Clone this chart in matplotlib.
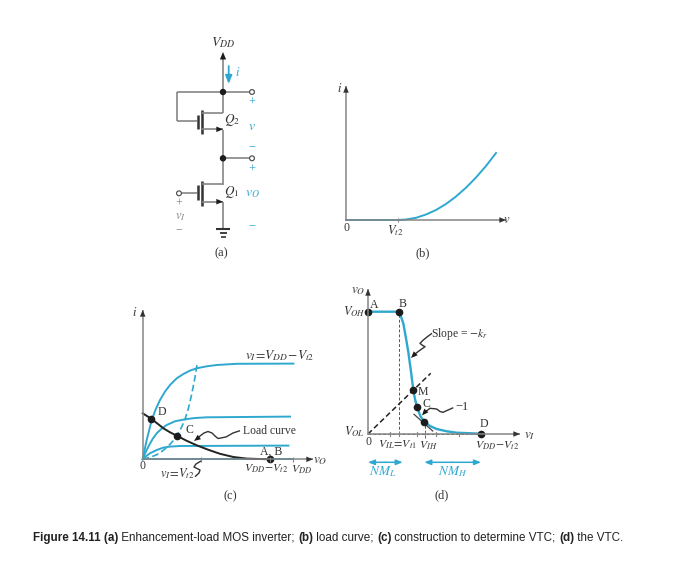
import matplotlib
matplotlib.use("Agg")
import matplotlib.pyplot as plt
from matplotlib.patches import Circle

W, H = 700, 565
BLUE = "#2fa8d0"
GRAY = "#858585"
INK = "#333333"
DARK = "#1c1c1c"
plt.rcParams["font.family"] = "Liberation Serif"
plt.rcParams["mathtext.fontset"] = "stix"
plt.rcParams["lines.solid_joinstyle"] = "round"
plt.rcParams["lines.dash_joinstyle"] = "round"

# ---- panel (b): load curve
b_v = [0, 5.2, 6, 7, 8, 9, 10, 11, 12, 13, 14, 15]
b_i = [0, 0, .05, .22, .55, 1.0, 1.6, 2.35, 3.23, 4.25, 5.4, 6.7]

# ---- panel (c): construction
c_top_x = [0, .2, .4, .67, .9, 1.3, 1.73, 2.23, 2.73, 3.4, 4.07, 4.73, 5.4, 6.4, 7.4, 9.4, 15.07]
c_top_y = [0, 1.0, 1.93, 3.0, 3.93, 5.0, 5.93, 6.77, 7.43, 8.1, 8.53, 8.87, 9.1, 9.3, 9.43, 9.55, 9.57]
c_mid_x = [0, .25, .57, .97, 1.4, 1.9, 2.4, 3.23, 4.23, 5.23, 6.4, 14.73]
c_mid_y = [0, .62, 1.27, 2.0, 2.6, 3.07, 3.43, 3.8, 4.0, 4.13, 4.2, 4.27]
c_low_x = [0, .35, .73, 1.4, 2.07, 2.73, 3.73, 14.57]
c_low_y = [0, .32, .6, .93, 1.17, 1.27, 1.33, 1.37]
c_off_x = [0, 15.07]
c_off_y = [0, 0]
c_sat_x = [0, .73, 1.4, 2.07, 2.73, 3.23, 3.57, 3.9, 4.23, 4.57, 4.9, 5.23, 5.47]
c_sat_y = [0, .2, .45, .9, 1.5, 2.05, 2.6, 3.25, 4.0, 5.1, 6.5, 8.2, 9.7]
c_load_x = [0, .83, 1.4, 2.07, 2.73, 3.47, 4.4, 5.4, 6.57, 7.73, 9.07, 10.4, 12.73]
c_load_y = [4.6, 4.07, 3.63, 3.1, 2.7, 2.33, 1.85, 1.4, .95, .55, .23, .07, 0]
c_pts_x = [.83, 3.47, 12.73]
c_pts_y = [4.07, 2.33, 0]

# ---- panel (d): the VTC
d_x = [0, 3.13, 3.53, 3.8, 4.03, 4.3, 4.53, 4.7, 4.93, 5.27, 5.63, 6.2, 6.87, 7.87, 8.87, 11.3]
d_y = [12.23, 12.23, 11.07, 9.57, 8.2, 6.23, 4.4, 3.5, 2.57, 1.73, 1.23, .8, .5, .27, .13, .03]
d_pts_x = [0, 3.13, 4.53, 4.93, 5.63, 11.3]
d_pts_y = [12.23, 12.23, 4.4, 2.67, 1.23, .03]
d_diag_x = [0, 6.27]
d_diag_y = [0, 6.07]
d_tan_x = [4.6, 6.47]
d_tan_y = [1.97, .3]
d_ticks = [2.2, 3.13, 4.87, 5.67, 6.8, 9.1, 11.3]

fig = plt.figure(figsize=(W / 100, H / 100), dpi=100, facecolor="white")
ov = fig.add_axes([0, 0, 1, 1], zorder=5)
ov.set_xlim(0, W); ov.set_ylim(H, 0); ov.axis("off"); ov.patch.set_alpha(0)


def panel(x0, y0, w, h, xmax, ymax):
    ax = fig.add_axes([x0 / W, 1 - y0 / H, w / W, h / H], zorder=3)
    ax.set_xlim(0, xmax); ax.set_ylim(0, ymax); ax.axis("off"); ax.patch.set_alpha(0)
    return ax


def arrow(p, q, color=BLUE, lw=1.1, scale=8):
    ov.annotate("", xy=q, xytext=p, xycoords="data", textcoords="data",
                arrowprops=dict(arrowstyle="-|>,head_width=0.22,head_length=0.55", color=color,
                                lw=lw, shrinkA=0, shrinkB=0, mutation_scale=scale))


def head(p, q, color=DARK, scale=9):
    ov.annotate("", xy=q, xytext=p, arrowprops=dict(arrowstyle="-|>,head_width=0.25,head_length=0.6",
                color=color, lw=0, shrinkA=0, shrinkB=0, mutation_scale=scale))


def seg(xs, ys, color=GRAY, lw=1.2, **kw):
    ov.plot(xs, ys, color=color, lw=lw, solid_capstyle="butt", **kw)


def axis_arrow(p, q):
    seg([p[0], q[0]], [p[1], q[1]], lw=1.1)
    dx = 0 if p[0] == q[0] else (1 if q[0] > p[0] else -1)
    dy = 0 if p[1] == q[1] else (1 if q[1] > p[1] else -1)
    head((q[0] - 8 * dx, q[1] - 8 * dy), q, color="#333333", scale=8)


def label(x, y, s, size=9, color=INK, **kw):
    ov.text(x, y, s, fontsize=size, color=color, ha="center", va="center", **kw)


def dot(x, y, r=2.5):
    ov.add_patch(Circle((x, y), r, color=DARK, zorder=6))


def term(x, y, r=2.4):
    ov.add_patch(Circle((x, y), r, fc="white", ec="#555555", lw=0.9, zorder=6))


# ---------- (a) circuit
X = 223
seg([X, X], [92, 58])
head((X, 62), (X, 52))
seg([X, X], [92, 113]); seg([X, X], [129.5, 184.5]); seg([X, X], [202, 229])
seg([X, 251], [92, 92]); seg([X, 251], [158.3, 158.3])
seg([176.7, X], [92, 92]); seg([176.7, 176.7], [92, 120.7]); seg([176.7, 197], [120.7, 120.7])
for top, ytop, ybot, ydr, ysr in [(0, 115, 129.3, 112.7, 129.3), (1, 185, 200, 184.3, 201.7)]:
    seg([197.7, 197.7], [ytop, ybot], color="#333333", lw=1.8)
    seg([202.3, 202.3], [ydr - 3, ysr + 4.5], color="#333333", lw=1.8)
    seg([202.3, X], [ydr, ydr]); seg([202.3, X], [ysr, ysr])
    head((X - 8, ysr), (X, ysr), scale=8)
seg([181, 197], [193.3, 193.3])
seg([216, 230], [229.3, 229.3], color="#333333", lw=1.5)
seg([219.5, 227], [233.3, 233.3], color="#333333", lw=1.3)
seg([221, 225.5], [237, 237], color="#333333", lw=1.2)
dot(X, 92); dot(X, 158.3)
term(252, 92); term(252, 158.3); term(179, 193.3)
arrow((228.7, 66), (228.7, 84), lw=1.3, scale=9)
label(223, 42.7, r"$V_{DD}$", 10)
label(238, 73, r"$i$", 9, BLUE)
label(232, 120.5, r"$Q_2$", 9.5)
label(232, 192, r"$Q_1$", 9.5)
label(252, 103, "+", 9, BLUE); label(252, 127, r"$v$", 10, BLUE)
label(252, 148, "\u2212", 9, BLUE); label(252, 170, "+", 9, BLUE)
label(252, 194, r"$v_O$", 10, BLUE); label(252, 226.7, "\u2212", 9, BLUE)
label(179, 203.5, "+", 8.5, GRAY); label(180, 217, r"$v_I$", 9, GRAY); label(179, 229, "\u2212", 8.5, GRAY)
label(221.7, 253, "(a)", 9)

# ---------- (b)
axb = panel(346, 220, 165, 140, 16.5, 14)
axb.plot(b_v, b_i, color=BLUE, lw=1.4, clip_on=False, zorder=4)
axis_arrow((346, 221), (346, 86)); axis_arrow((346, 220), (506, 220))
seg([398, 398], [218, 222], lw=0.8)
label(340, 88, r"$i$", 9); label(346, 228, "0", 8.5)
label(395, 231, r"$V_{t2}$", 9); label(507, 220, r"$v$", 9)
label(423, 253, "(b)", 9)

# ---------- (c)
axc = panel(142.7, 459.3, 170, 150, 17, 15)
for xs, ys in [(c_top_x, c_top_y), (c_mid_x, c_mid_y), (c_low_x, c_low_y), (c_off_x, c_off_y)]:
    axc.plot(xs, ys, color=BLUE, lw=1.4, clip_on=False)
axc.plot(c_sat_x, c_sat_y, color=BLUE, lw=1.2, ls=(0, (4, 2)), clip_on=False)
axc.plot(c_load_x, c_load_y, color="#222222", lw=1.4, clip_on=False)
axc.plot(c_pts_x, c_pts_y, "o", color=DARK, ms=4.5, clip_on=False, zorder=5)
axis_arrow((142.7, 460), (142.7, 310)); axis_arrow((142.7, 459.3), (313, 459.3))
for x in [201, 270, 293]:
    seg([x, x], [457, 462], lw=0.8)
sq1_x = [240, 233, 226, 218, 215, 212, 208, 204, 200, 197]
sq1_y = [430.7, 433, 437, 438.5, 436, 433, 431.5, 433, 436, 439]
seg(sq1_x, sq1_y, color="#333333", lw=1)
head((198, 438), (194, 441), scale=8)
sq2_x = [195, 199, 200, 197, 194, 196, 201]
sq2_y = [476.7, 473, 470, 468.5, 467, 464, 461]
seg(sq2_x, sq2_y, color="#333333", lw=1)
label(135, 312, r"$i$", 9)
label(280, 356, r"$v_I\!=\!V_{DD}\!-\!V_{t2}$", 9.7)
label(161.7, 412, "D", 8.5); label(189, 430, "C", 8.5)
label(269, 431, "Load curve", 8.4); label(270.7, 452, "A, B", 8.5)
label(142.7, 466, "0", 8.5); label(177, 473.5, r"$v_I\!=\!V_{t2}$", 9)
label(266, 469, r"$V_{DD}\!-\!V_{t2}$", 8.6); label(301.7, 470, r"$V_{DD}$", 8.6)
label(320, 460.7, r"$v_O$", 9.5)
label(230, 496, "(c)", 9)

# ---------- (d)
axd = panel(368, 434, 160, 150, 16, 15)
axd.plot([3.13, 3.13], [0, 12.23], color="#555555", lw=0.7, ls=(0, (3, 2)), clip_on=False)
axd.plot([5.67, 5.67], [-0.4, 1.23], color="#555555", lw=0.7, ls=(0, (3, 2)), clip_on=False)
axd.plot([0, 11.3], [0.03, 0.03], color="#555555", lw=0.7, ls=(0, (3, 2)), clip_on=False)
axd.plot(d_x, d_y, color=BLUE, lw=1.7, clip_on=False)
axd.plot(d_diag_x, d_diag_y, color="#222222", lw=1.1, ls=(0, (3.5, 2)), clip_on=False)
axd.plot(d_tan_x, d_tan_y, color="#444444", lw=0.9, clip_on=False)
axd.plot(d_pts_x, d_pts_y, "o", color=DARK, ms=4.5, clip_on=False, zorder=5)
axis_arrow((368, 434.5), (368, 289)); axis_arrow((368, 434), (520, 434))
for t in d_ticks:
    axd.plot([t, t], [-.2, .2], color=GRAY, lw=0.8, clip_on=False)
sq3_x = [432, 427, 423.3, 420, 422, 425, 421, 418, 415]
sq3_y = [333.3, 337, 340, 343.3, 345, 346.7, 349.5, 351.7, 354]
seg(sq3_x, sq3_y, color="#333333", lw=1)
head((416, 353), (411, 358), scale=8)
sq4_x = [453.3, 447, 443, 440, 436.7, 430, 425]
sq4_y = [407.7, 410.5, 412.3, 411.5, 409, 408.3, 412]
seg(sq4_x, sq4_y, color="#333333", lw=1)
head((425, 412), (422, 415.5), scale=8)
label(358, 291, r"$v_O$", 9.5); label(354, 311.7, r"$V_{OH}$", 9)
label(374, 305, "A", 8.5); label(403, 304, "B", 8.5)
label(460, 334, r"Slope = $-k_r$", 8.4)
label(423, 392, "M", 8.5); label(426, 404, "C", 8.5); label(461.7, 407, "\u22121", 9)
label(484, 424, "D", 8.5); label(354, 432, r"$V_{OL}$", 9)
label(368, 442, "0", 8.5); label(397, 445, r"$V_{IL}\!=\!V_{t1}$", 8.6)
label(428, 446, r"$V_{IH}$", 8.6); label(497, 446, r"$V_{DD}\!-\!V_{t2}$", 8.6)
label(530, 436, r"$v_I$", 9.5)
for p, q in [((385, 462.3), (368, 462.3)), ((385, 462.3), (402.7, 462.3)),
             ((452, 462.3), (424.3, 462.3)), ((452, 462.3), (481, 462.3))]:
    arrow(p, q, lw=1.1, scale=7)
label(383, 472, r"$NM_L$", 9.5, BLUE); label(453, 472, r"$NM_H$", 9.5, BLUE)
label(441.7, 495, "(d)", 9)

# ---------- caption
parts = [("Figure 14.11 (a)", "bold"), (" Enhancement-load MOS inverter; ", "normal"), ("(b)", "bold"),
         (" load curve; ", "normal"), ("(c)", "bold"), (" construction to determine VTC; ", "normal"),
         ("(d)", "bold"), (" the VTC.", "normal")]
renderer = fig.canvas.get_renderer()
cx = 33.0
for s, w in parts:
    t = ov.text(cx, 541, s, fontsize=8.35, family="Liberation Sans", weight=w, color="#222222",
                va="baseline", ha="left")
    t.set_text(s.replace(" ", "\u00a0"))
    cx += t.get_window_extent(renderer).width * (100 / fig.dpi)

fig.savefig("out.png", dpi=100, facecolor="white")
